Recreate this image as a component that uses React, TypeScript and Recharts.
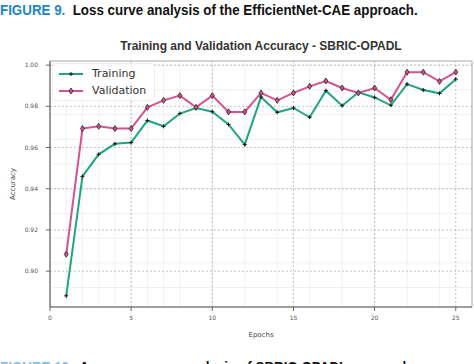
import { LineChart, Line, XAxis, YAxis, CartesianGrid, ReferenceArea } from "recharts"

const epochs = [1,2,3,4,5,6,7,8,9,10,11,12,13,14,15,16,17,18,19,20,21,22,23,24,25]
const training = [0.888,0.946,0.9567,0.9618,0.9624,0.9731,0.9703,0.9765,0.9792,0.9774,0.9712,0.9614,0.9845,0.9771,0.9792,0.9747,0.9876,0.9803,0.9868,0.9843,0.9805,0.9908,0.9879,0.9863,0.9932]
const validation = [0.9082,0.9692,0.9703,0.9692,0.9692,0.9795,0.9829,0.9852,0.9795,0.9852,0.9773,0.9773,0.9865,0.9829,0.9865,0.9897,0.9923,0.9889,0.9865,0.9889,0.9832,0.9966,0.9966,0.9921,0.9966]
const xTicks = [0,5,10,15,20,25]
const xMinor = [0,1,2,3,4,5,6,7,8,9,10,11,12,13,14,15,16,17,18,19,20,21,22,23,24,25,26]
const yTicks = [0.90,0.92,0.94,0.96,0.98,1.00]
const yMinor = [0.884,0.888,0.892,0.896,0.90,0.904,0.908,0.912,0.916,0.92,0.924,0.928,0.932,0.936,0.94,0.944,0.948,0.952,0.956,0.96,0.964,0.968,0.972,0.976,0.98,0.984,0.988,0.992,0.996,1.0]

const data = epochs.map((e,i)=>({epoch:e, training:training[i], validation:validation[i]}))

const GREEN = "#1fa582"
const PINK = "#d4528e"
const tickFont = {fontSize:6,fontFamily:"'DejaVu Sans'",fill:"#555"}

const PlusDot = (p:any) => {
  const {cx,cy} = p
  if (cx==null||cy==null) return null
  return <g key={`t${p.index}`}><line x1={cx-2} x2={cx+2} y1={cy} y2={cy} stroke="#111" strokeWidth={1}/><line x1={cx} x2={cx} y1={cy-2} y2={cy+2} stroke="#111" strokeWidth={1}/></g>
}
const DiamondDot = (p:any) => {
  const {cx,cy} = p
  if (cx==null||cy==null) return null
  return <path key={`v${p.index}`} d={`M${cx},${cy-3} L${cx+2},${cy} L${cx},${cy+3} L${cx-2},${cy} Z`} fill={PINK} stroke="#222" strokeWidth={0.8}/>
}

const LegendBox = () => (
  <div style={{position:"absolute",left:52,top:63,border:"1px solid #eee",borderRadius:3,background:"rgba(255,255,255,0.85)",padding:"1px 8px 1px 4px",fontFamily:"'DejaVu Sans'",fontSize:11,color:"#333",lineHeight:"17px"}}>
    {[{n:"Training",c:GREEN,d:"t"},{n:"Validation",c:PINK,d:"v"}].map(it=>(
      <div key={it.n} style={{display:"flex",alignItems:"center"}}>
        <svg width={28} height={10} style={{marginRight:7}}>
          <line x1={2} x2={26} y1={5} y2={5} stroke={it.c} strokeWidth={2}/>
          {it.d==="t" ? <PlusDot cx={14} cy={5} index={0}/> : <DiamondDot cx={14} cy={5} index={0}/>}
        </svg>
        {it.n}
      </div>
    ))}
  </div>
)

const captionStyle:any = {position:"absolute",left:0,whiteSpace:"nowrap",fontFamily:"'Liberation Sans'",fontWeight:700,fontSize:15,color:"#111",transform:"scaleX(0.89)",transformOrigin:"left top"}

export default function App() {
  return (
    <div style={{position:"absolute",left:0,top:0,width:474,height:364,overflow:"hidden",background:"#fff"}}>
      <div style={{...captionStyle,top:1}}>
        <span style={{color:"#1b86c9"}}>FIGURE 9.</span>&nbsp; Loss curve analysis of the EfficientNet-CAE approach.
      </div>
      <div style={{position:"absolute",left:0,width:522,top:39,textAlign:"center",fontFamily:"'Liberation Sans'",fontWeight:700,fontSize:12,color:"#333"}}>
        Training and Validation Accuracy - SBRIC-OPADL
      </div>
      <LineChart width={474} height={364} data={data} margin={{top:61,right:2,left:0,bottom:0}} style={{position:"absolute",left:0,top:0}}>
        <CartesianGrid stroke="#e6e6e6" strokeWidth={0.6} horizontalValues={yMinor} verticalValues={xMinor}/>
        <CartesianGrid stroke="#aaa" strokeWidth={0.7} strokeDasharray="2 2" horizontalValues={yTicks} verticalValues={xTicks}/>
        <XAxis dataKey="epoch" type="number" domain={[0,26]} ticks={xTicks} tick={tickFont} tickSize={4} tickMargin={5} height={57} stroke="#666"
          label={{value:"Epochs",position:"insideTop",offset:25,style:{fontSize:7,fontFamily:"'DejaVu Sans'",fill:"#444"}}}/>
        <YAxis type="number" domain={[0.8826,1.002]} ticks={yTicks} tick={tickFont} tickSize={4} tickMargin={8} width={50} stroke="#666" allowDataOverflow
          tickFormatter={(v:number)=>v.toFixed(2)}
          label={{value:"Accuracy",angle:-90,position:"insideLeft",offset:13,style:{fontSize:7,fontFamily:"'DejaVu Sans'",fill:"#444",textAnchor:"middle"}}}/>
        <ReferenceArea x1={0} x2={26} y1={0.8826} y2={1.002} fill="none" stroke="#aaa" strokeWidth={1}/>
        <Line dataKey="training" stroke={GREEN} strokeWidth={2} dot={PlusDot} isAnimationActive={false}/>
        <Line dataKey="validation" stroke={PINK} strokeWidth={2} dot={DiamondDot} isAnimationActive={false}/>
      </LineChart>
      <LegendBox/>
      <div style={{...captionStyle,top:358}}>
        <span style={{color:"#7fbfe6"}}>FIGURE 10.</span>&nbsp; Accuracy curve analysis of SBRIC-OPADL approach.
      </div>
    </div>
  )
}
